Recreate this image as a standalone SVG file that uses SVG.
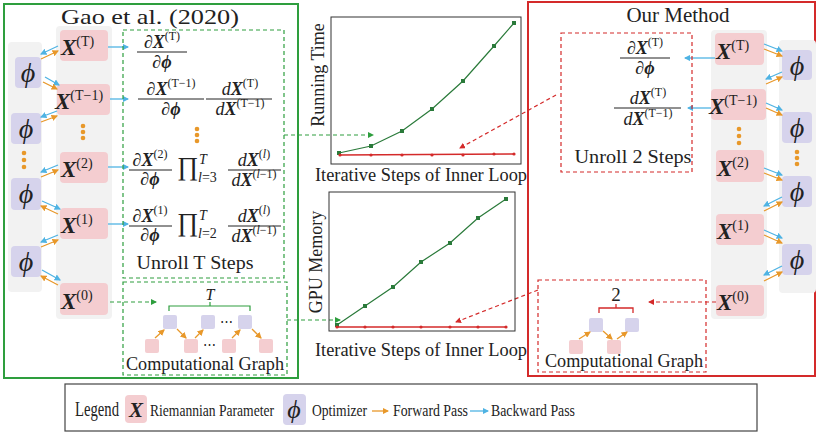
<svg xmlns="http://www.w3.org/2000/svg" width="818" height="436" viewBox="0 0 818 436">
<defs>
<marker id="ab" viewBox="0 0 6 6" refX="5" refY="3" markerWidth="5" markerHeight="5" orient="auto"><path d="M0,0L6,3L0,6z" fill="#4fb3e3"/></marker>
<marker id="ao" viewBox="0 0 6 6" refX="5" refY="3" markerWidth="5" markerHeight="5" orient="auto"><path d="M0,0L6,3L0,6z" fill="#e8982a"/></marker>
<marker id="ag" viewBox="0 0 6 6" refX="5" refY="3" markerWidth="5" markerHeight="5" orient="auto"><path d="M0,0L6,3L0,6z" fill="#2e9e3e"/></marker>
<marker id="ar" viewBox="0 0 6 6" refX="5" refY="3" markerWidth="5" markerHeight="5" orient="auto"><path d="M0,0L6,3L0,6z" fill="#d42a2a"/></marker>
</defs>
<style>
text{font-family:"Liberation Serif","Times New Roman",serif;fill:#222}
.t{font-size:21px}
.x{font-size:23px;font-weight:bold;font-style:italic}
.s{font-size:14px;font-style:normal;font-weight:normal}
.ph{font-size:28px;font-style:italic}
.f{font-size:18px;font-style:italic}
.fb{font-weight:bold}
.fs{font-size:12px;font-style:normal;font-weight:normal}
.lbl{font-size:18px}
.pk{fill:#f4cdd0}
.pu{fill:#d6d3ec}
.gr{fill:#f2f2f2}
.bl{stroke:#4fb3e3;stroke-width:1.3;marker-end:url(#ab)}
.or{stroke:#e8982a;stroke-width:1.3;marker-end:url(#ao)}
.gd{stroke:#2e9e3e;stroke-width:1.2;stroke-dasharray:4,3;fill:none}
.rd{stroke:#d42a2a;stroke-width:1.2;stroke-dasharray:4,3;fill:none}
.fl{stroke:#222;stroke-width:1}
.dot{fill:#e8982a}
</style>
<rect x="4" y="4" width="294" height="374" fill="none" stroke="#2e9e3e" stroke-width="2"/>
<rect x="528" y="2" width="287" height="374" fill="none" stroke="#d42a2a" stroke-width="2"/>
<text class="t" x="150" y="24" text-anchor="middle" textLength="178" lengthAdjust="spacingAndGlyphs">Gao et al.  (2020)</text>
<text class="t" x="678" y="22" text-anchor="middle">Our Method</text>

<rect class="gr" x="8" y="42" width="34" height="250" rx="4"/>
<rect class="gr" x="56" y="26" width="56" height="293" rx="4"/>
<rect class="gr" x="711" y="30" width="56" height="289" rx="4"/>
<rect class="gr" x="779" y="40" width="37" height="253" rx="4"/>

<g id="left-x">
<g id="lxT"><rect class="pk" x="60" y="30" width="48" height="31" rx="4"/><text class="x" x="61" y="55">X<tspan class="s" dy="-9">(T)</tspan></text></g>
<g id="lxT1"><rect class="pk" x="57" y="84" width="53" height="31" rx="4"/><text class="x" x="55" y="109">X<tspan class="s" dy="-9">(T−1)</tspan></text></g>
<g id="lx2"><rect class="pk" x="60" y="152" width="48" height="31" rx="4"/><text class="x" x="61" y="177">X<tspan class="s" dy="-9">(2)</tspan></text></g>
<g id="lx1"><rect class="pk" x="60" y="208" width="48" height="31" rx="4"/><text class="x" x="61" y="233">X<tspan class="s" dy="-9">(1)</tspan></text></g>
<g id="lx0"><rect class="pk" x="60" y="283" width="48" height="32" rx="4"/><text class="x" x="61" y="309">X<tspan class="s" dy="-9">(0)</tspan></text></g>
<circle class="dot" cx="83" cy="126" r="2.3"/><circle class="dot" cx="83" cy="132" r="2.3"/><circle class="dot" cx="83" cy="138" r="2.3"/>
</g>
<g id="left-phi">
<g><rect class="pu" x="15" y="57" width="26" height="31" rx="4"/><text class="ph" x="28" y="82" text-anchor="middle">ϕ</text></g>
<g><rect class="pu" x="11" y="113" width="30" height="31" rx="4"/><text class="ph" x="26" y="138" text-anchor="middle">ϕ</text></g>
<g><rect class="pu" x="11" y="178" width="30" height="32" rx="4"/><text class="ph" x="26" y="203" text-anchor="middle">ϕ</text></g>
<g><rect class="pu" x="11" y="246" width="30" height="31" rx="4"/><text class="ph" x="26" y="271" text-anchor="middle">ϕ</text></g>
<circle class="dot" cx="24" cy="153" r="2.3"/><circle class="dot" cx="24" cy="160" r="2.3"/><circle class="dot" cx="24" cy="167" r="2.3"/>
</g>
<g id="right-x">
<g><rect class="pk" x="715" y="33" width="49" height="32" rx="4"/><text class="x" x="716" y="59">X<tspan class="s" dy="-9">(T)</tspan></text></g>
<g><rect class="pk" x="711" y="89" width="55" height="31" rx="4"/><text class="x" x="709" y="114">X<tspan class="s" dy="-9">(T−1)</tspan></text></g>
<g><rect class="pk" x="716" y="150" width="48" height="32" rx="4"/><text class="x" x="717" y="176">X<tspan class="s" dy="-9">(2)</tspan></text></g>
<g><rect class="pk" x="716" y="214" width="48" height="31" rx="4"/><text class="x" x="717" y="239">X<tspan class="s" dy="-9">(1)</tspan></text></g>
<g><rect class="pk" x="716" y="285" width="48" height="31" rx="4"/><text class="x" x="717" y="310">X<tspan class="s" dy="-9">(0)</tspan></text></g>
<circle class="dot" cx="739" cy="129" r="2.3"/><circle class="dot" cx="739" cy="136" r="2.3"/><circle class="dot" cx="739" cy="143" r="2.3"/>
</g>
<g id="right-phi">
<g><rect class="pu" x="782" y="50" width="30" height="30" rx="4"/><text class="ph" x="797" y="75" text-anchor="middle">ϕ</text></g>
<g><rect class="pu" x="782" y="112" width="30" height="31" rx="4"/><text class="ph" x="797" y="137" text-anchor="middle">ϕ</text></g>
<g><rect class="pu" x="782" y="176" width="30" height="31" rx="4"/><text class="ph" x="797" y="201" text-anchor="middle">ϕ</text></g>
<g><rect class="pu" x="782" y="244" width="30" height="31" rx="4"/><text class="ph" x="797" y="269" text-anchor="middle">ϕ</text></g>
<circle class="dot" cx="797" cy="152" r="2.3"/><circle class="dot" cx="797" cy="158" r="2.3"/><circle class="dot" cx="797" cy="164" r="2.3"/>
</g>

<g id="connectors">
<line class="bl" x1="58" y1="46" x2="41" y2="54"/><line class="or" x1="41" y1="59" x2="58" y2="51"/>
<line class="bl" x1="45" y1="77" x2="59" y2="85"/><line class="or" x1="43" y1="82" x2="57" y2="89"/>
<line class="bl" x1="57" y1="111" x2="41" y2="117"/><line class="or" x1="41" y1="122" x2="57" y2="116"/>
<line class="bl" x1="58" y1="165" x2="41" y2="172"/><line class="or" x1="41" y1="177" x2="58" y2="170"/>
<line class="bl" x1="42" y1="201" x2="60" y2="209"/><line class="or" x1="58" y1="214" x2="41" y2="206"/>
<line class="bl" x1="58" y1="235" x2="41" y2="242"/><line class="or" x1="41" y1="247" x2="58" y2="240"/>
<line class="bl" x1="42" y1="270" x2="60" y2="280"/><line class="or" x1="58" y1="285" x2="41" y2="276"/>
<line class="bl" x1="764" y1="44" x2="782" y2="51"/><line class="or" x1="764" y1="49" x2="782" y2="56"/>
<line class="bl" x1="782" y1="72" x2="766" y2="79"/><line class="or" x1="766" y1="84" x2="782" y2="77"/>
<line class="bl" x1="766" y1="103" x2="782" y2="110"/><line class="or" x1="766" y1="108" x2="782" y2="115"/>
<line class="bl" x1="764" y1="168" x2="782" y2="175"/><line class="or" x1="764" y1="173" x2="782" y2="180"/>
<line class="bl" x1="782" y1="197" x2="764" y2="206"/><line class="or" x1="764" y1="211" x2="782" y2="202"/>
<line class="bl" x1="764" y1="230" x2="782" y2="238"/><line class="or" x1="764" y1="235" x2="782" y2="243"/>
<line class="bl" x1="782" y1="266" x2="764" y2="275"/><line class="or" x1="764" y1="281" x2="782" y2="272"/>
<line class="bl" x1="108" y1="47" x2="128" y2="47"/>
<line class="bl" x1="110" y1="99" x2="128" y2="99"/>
<line class="bl" x1="108" y1="167" x2="128" y2="167"/>
<line class="bl" x1="108" y1="224" x2="128" y2="224"/>
<line class="bl" x1="715" y1="58" x2="685" y2="58"/>
<line class="bl" x1="711" y1="108" x2="688" y2="108"/>
<line class="gd" x1="110" y1="302" x2="156" y2="302" marker-end="url(#ag)"/>
<line class="gd" x1="284" y1="135" x2="373" y2="135" marker-end="url(#ag)"/>
<line class="gd" x1="287" y1="320" x2="340" y2="320" marker-end="url(#ag)"/>
<line class="rd" x1="556" y1="95" x2="460" y2="148" marker-end="url(#ar)"/>
<line class="rd" x1="538" y1="290" x2="456" y2="322" marker-end="url(#ar)"/>
<line class="rd" x1="716" y1="302" x2="649" y2="302" marker-end="url(#ar)"/>
</g>

<g id="unrollT">
<rect class="gd" x="123" y="30" width="161" height="248"/>
<text class="f" x="162" y="48" text-anchor="middle">∂<tspan class="fb">X</tspan><tspan class="fs" dy="-8">(T)</tspan></text>
<line class="fl" x1="137" y1="52" x2="187" y2="52"/>
<text class="f" x="162" y="68" text-anchor="middle">∂<tspan class="fb">ϕ</tspan></text>

<text class="f" x="171" y="95" text-anchor="middle">∂<tspan class="fb">X</tspan><tspan class="fs" dy="-8">(T−1)</tspan></text>
<line class="fl" x1="138" y1="99" x2="204" y2="99"/>
<text class="f" x="171" y="115" text-anchor="middle">∂<tspan class="fb">ϕ</tspan></text>
<text class="f" x="240" y="95" text-anchor="middle">d<tspan class="fb">X</tspan><tspan class="fs" dy="-8">(T)</tspan></text>
<line class="fl" x1="206" y1="99" x2="272" y2="99"/>
<text class="f" x="240" y="115" text-anchor="middle">d<tspan class="fb">X</tspan><tspan class="fs" dy="-8">(T−1)</tspan></text>

<circle class="dot" cx="197" cy="129" r="2.3"/><circle class="dot" cx="197" cy="135" r="2.3"/><circle class="dot" cx="197" cy="141" r="2.3"/>

<text class="f" x="150" y="166" text-anchor="middle">∂<tspan class="fb">X</tspan><tspan class="fs" dy="-8">(2)</tspan></text>
<line class="fl" x1="129" y1="170" x2="172" y2="170"/>
<text class="f" x="150" y="185" text-anchor="middle">∂<tspan class="fb">ϕ</tspan></text>
<text x="177" y="175" style="font-size:26px">∏</text>
<text x="199" y="164" style="font-size:14px;font-style:italic">T</text>
<text x="198" y="182" style="font-size:14px"><tspan font-style="italic">l</tspan>=3</text>
<text class="f" x="254" y="166" text-anchor="middle">d<tspan class="fb">X</tspan><tspan class="fs" dy="-8">(<tspan font-style="italic">l</tspan>)</tspan></text>
<line class="fl" x1="228" y1="170" x2="281" y2="170"/>
<text class="f" x="254" y="186" text-anchor="middle">d<tspan class="fb">X</tspan><tspan class="fs" dy="-8">(<tspan font-style="italic">l</tspan>−1)</tspan></text>

<text class="f" x="150" y="222" text-anchor="middle">∂<tspan class="fb">X</tspan><tspan class="fs" dy="-8">(1)</tspan></text>
<line class="fl" x1="129" y1="226" x2="172" y2="226"/>
<text class="f" x="150" y="241" text-anchor="middle">∂<tspan class="fb">ϕ</tspan></text>
<text x="177" y="231" style="font-size:26px">∏</text>
<text x="199" y="220" style="font-size:14px;font-style:italic">T</text>
<text x="198" y="238" style="font-size:14px"><tspan font-style="italic">l</tspan>=2</text>
<text class="f" x="254" y="222" text-anchor="middle">d<tspan class="fb">X</tspan><tspan class="fs" dy="-8">(<tspan font-style="italic">l</tspan>)</tspan></text>
<line class="fl" x1="228" y1="226" x2="281" y2="226"/>
<text class="f" x="254" y="242" text-anchor="middle">d<tspan class="fb">X</tspan><tspan class="fs" dy="-8">(<tspan font-style="italic">l</tspan>−1)</tspan></text>

<text class="lbl" x="195" y="269" text-anchor="middle" textLength="117" lengthAdjust="spacingAndGlyphs">Unroll T Steps</text>
</g>

<g id="graphT">
<rect class="gd" x="123" y="282" width="164" height="93"/>
<text x="210" y="300" text-anchor="middle" style="font-size:16px;font-style:italic">T</text>
<path d="M169,311V306H250V311M210,306V302" fill="none" stroke="#2e9e3e" stroke-width="1.2"/>
<rect class="pu" x="163" y="315" width="14" height="14" rx="2"/>
<rect class="pu" x="201" y="315" width="14" height="14" rx="2"/>
<rect class="pu" x="238" y="315" width="14" height="14" rx="2"/>
<text x="226" y="326" text-anchor="middle" style="font-size:13px">⋯</text>
<rect class="pk" x="145" y="339" width="14" height="14" rx="2"/>
<rect class="pk" x="184" y="339" width="14" height="14" rx="2"/>
<rect class="pk" x="222" y="339" width="14" height="14" rx="2"/>
<rect class="pk" x="259" y="339" width="14" height="14" rx="2"/>
<text x="209" y="349" text-anchor="middle" style="font-size:13px">⋯</text>
<line class="or" x1="155" y1="338" x2="164" y2="330"/>
<line class="or" x1="177" y1="329" x2="186" y2="338"/>
<line class="or" x1="195" y1="338" x2="203" y2="330"/>
<line class="or" x1="232" y1="338" x2="240" y2="330"/>
<line class="or" x1="252" y1="329" x2="261" y2="338"/>
<text class="lbl" x="205" y="370" text-anchor="middle" textLength="158" lengthAdjust="spacingAndGlyphs">Computational Graph</text>
</g>

<g id="plot-time">
<rect x="331" y="17" width="190" height="147" fill="none" stroke="#333" stroke-width="1"/>
<text class="lbl" transform="translate(324,75) rotate(-90)" text-anchor="middle">Running Time</text>
<polyline points="339,153 371,146 402,131 432,109 463,81 494,46 514,23" fill="none" stroke="#2a7a3a" stroke-width="1.2"/>
<g fill="#2a7a3a"><rect x="337" y="151" width="4" height="4"/><rect x="369" y="144" width="4" height="4"/><rect x="400" y="129" width="4" height="4"/><rect x="430" y="107" width="4" height="4"/><rect x="461" y="79" width="4" height="4"/><rect x="492" y="44" width="4" height="4"/><rect x="512" y="21" width="4" height="4"/></g>
<polyline points="340,155 514,154" fill="none" stroke="#d42a2a" stroke-width="1.5"/>
<g fill="#d42a2a"><circle cx="340" cy="155" r="1.6"/><circle cx="371" cy="155" r="1.6"/><circle cx="402" cy="155" r="1.6"/><circle cx="432" cy="155" r="1.6"/><circle cx="463" cy="155" r="1.6"/><circle cx="494" cy="154" r="1.6"/><circle cx="514" cy="154" r="1.6"/></g>
<text class="lbl" x="421" y="181" text-anchor="middle" textLength="212" lengthAdjust="spacingAndGlyphs">Iterative Steps of Inner Loop</text>
</g>

<g id="plot-mem">
<rect x="329" y="192" width="186" height="139" fill="none" stroke="#333" stroke-width="1"/>
<text class="lbl" transform="translate(322,262) rotate(-90)" text-anchor="middle">GPU Memory</text>
<polyline points="337,325 365,306 393,287 421,262 450,243 478,218 506,199" fill="none" stroke="#2a7a3a" stroke-width="1.2"/>
<g fill="#2a7a3a"><rect x="335" y="323" width="4" height="4"/><rect x="363" y="304" width="4" height="4"/><rect x="391" y="285" width="4" height="4"/><rect x="419" y="260" width="4" height="4"/><rect x="448" y="241" width="4" height="4"/><rect x="476" y="216" width="4" height="4"/><rect x="504" y="197" width="4" height="4"/></g>
<polyline points="337,327 506,327" fill="none" stroke="#d42a2a" stroke-width="1.5"/>
<g fill="#d42a2a"><circle cx="337" cy="327" r="1.6"/><circle cx="365" cy="327" r="1.6"/><circle cx="393" cy="327" r="1.6"/><circle cx="421" cy="327" r="1.6"/><circle cx="450" cy="327" r="1.6"/><circle cx="478" cy="327" r="1.6"/><circle cx="506" cy="327" r="1.6"/></g>
<text class="lbl" x="421" y="356" text-anchor="middle" textLength="212" lengthAdjust="spacingAndGlyphs">Iterative Steps of Inner Loop</text>
</g>

<g id="unroll2">
<rect class="rd" x="561" y="33" width="131" height="139"/>
<text class="f" x="645" y="54" text-anchor="middle">∂<tspan class="fb">X</tspan><tspan class="fs" dy="-8">(T)</tspan></text>
<line class="fl" x1="620" y1="58" x2="670" y2="58"/>
<text class="f" x="645" y="74" text-anchor="middle">∂<tspan class="fb">ϕ</tspan></text>
<text class="f" x="648" y="104" text-anchor="middle">d<tspan class="fb">X</tspan><tspan class="fs" dy="-8">(T)</tspan></text>
<line class="fl" x1="614" y1="108" x2="681" y2="108"/>
<text class="f" x="648" y="125" text-anchor="middle">d<tspan class="fb">X</tspan><tspan class="fs" dy="-8">(T−1)</tspan></text>
<text class="lbl" x="633" y="163" text-anchor="middle" textLength="117" lengthAdjust="spacingAndGlyphs">Unroll 2 Steps</text>
</g>

<g id="graph2">
<rect class="rd" x="538" y="280" width="168" height="92"/>
<text x="616" y="301" text-anchor="middle" style="font-size:19px">2</text>
<path d="M599,313V308H633V313M616,308V304" fill="none" stroke="#d42a2a" stroke-width="1.3"/>
<rect class="pu" x="589" y="318" width="14" height="14" rx="2"/>
<rect class="pu" x="625" y="318" width="14" height="14" rx="2"/>
<rect class="pk" x="569" y="340" width="14" height="14" rx="2"/>
<rect class="pk" x="607" y="340" width="14" height="14" rx="2"/>
<line class="or" x1="579" y1="339" x2="590" y2="332"/>
<line class="or" x1="603" y1="331" x2="612" y2="339"/>
<line class="or" x1="617" y1="339" x2="627" y2="332"/>
<text class="lbl" x="624" y="367" text-anchor="middle" textLength="158" lengthAdjust="spacingAndGlyphs">Computational Graph</text>
</g>

<g id="legend">
<rect x="65" y="384" width="692" height="47" fill="none" stroke="#444" stroke-width="1.2"/>
<text x="75" y="416" style="font-size:21px" textLength="44" lengthAdjust="spacingAndGlyphs">Legend</text>
<rect class="pk" x="125" y="395" width="22" height="28" rx="4"/>
<text x="136" y="417" text-anchor="middle" style="font-size:21px;font-weight:bold;font-style:italic">X</text>
<text x="150" y="416" style="font-size:17px" textLength="124" lengthAdjust="spacingAndGlyphs">Riemannian Parameter</text>
<rect class="pu" x="283" y="394" width="23" height="31" rx="4"/>
<text x="294" y="418" text-anchor="middle" style="font-size:26px;font-style:italic">ϕ</text>
<text x="312" y="416" style="font-size:17px" textLength="55" lengthAdjust="spacingAndGlyphs">Optimizer</text>
<line class="or" x1="372" y1="411" x2="388" y2="411"/>
<text x="393" y="416" style="font-size:17px" textLength="75" lengthAdjust="spacingAndGlyphs">Forward Pass</text>
<line class="bl" x1="470" y1="411" x2="488" y2="411"/>
<text x="491" y="416" style="font-size:17px" textLength="84" lengthAdjust="spacingAndGlyphs">Backward Pass</text>
</g>
</svg>
